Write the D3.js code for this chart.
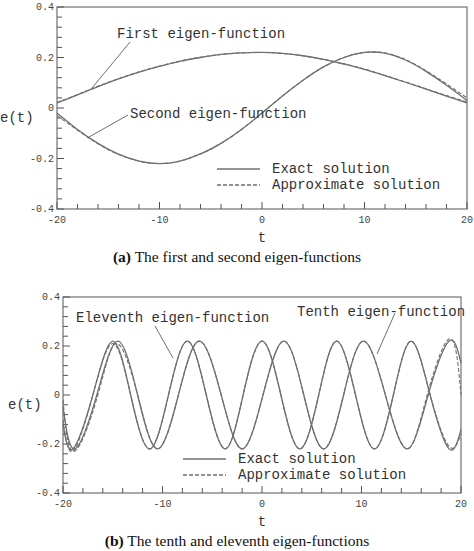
<!DOCTYPE html>
<html><head><meta charset="utf-8">
<script src="https://cdn.jsdelivr.net/npm/d3@7"></script>
<style>body{margin:0;background:#fff}</style>
</head><body>
<svg id="c" width="474" height="551"></svg>
<script>
// panel (a): first and second eigen-functions
const tA = [-20,-18,-16,-14,-12,-10,-8,-6,-4,-2,0,2,4,6,8,10,12,14,16,18,20];
const firstExact  = [0.02,0.052,0.085,0.115,0.142,0.165,0.185,0.2,0.212,0.218,0.22,0.216,0.207,0.193,0.174,0.153,0.128,0.102,0.075,0.047,0.02];
const firstApprox = [0.022,0.053,0.086,0.116,0.143,0.166,0.186,0.201,0.212,0.218,0.22,0.216,0.207,0.193,0.175,0.154,0.129,0.103,0.076,0.049,0.024];
const secondExact  = [-0.02,-0.085,-0.14,-0.183,-0.21,-0.22,-0.21,-0.182,-0.14,-0.085,-0.02,0.048,0.11,0.163,0.2,0.22,0.217,0.19,0.145,0.09,0.03];
const secondApprox = [-0.03,-0.088,-0.142,-0.184,-0.21,-0.22,-0.21,-0.182,-0.14,-0.085,-0.02,0.048,0.11,0.163,0.2,0.22,0.218,0.192,0.148,0.095,0.04];

// panel (b): tenth and eleventh, extrema and zero crossings as [t, e]
const eleventhExact = [[-20,-0.12],[-19,-0.22],[-17,0],[-15,0.22],[-13.2,0],[-11.3,-0.22],[-9.4,0],[-7.5,0.22],[-5.6,0],[-3.7,-0.22],[-1.9,0],[0,0.22],[1.9,0],[3.8,-0.22],[5.7,0],[7.5,0.22],[9.4,0],[11.3,-0.22],[13.2,0],[15,0.22],[16.9,0],[18.8,-0.22],[20,-0.14]];
const eleventhApprox = [[-20,-0.1],[-19,-0.23],[-17,0],[-15,0.21],[-13.2,0],[-11.3,-0.22],[-9.4,0],[-7.5,0.22],[-5.6,0],[-3.7,-0.22],[-1.9,0],[0,0.22],[1.9,0],[3.8,-0.22],[5.7,0],[7.5,0.22],[9.4,0],[11.3,-0.22],[13.2,0],[15,0.22],[16.9,0],[18.8,-0.21],[20,-0.16]];
const tenthExact = [[-20,-0.05],[-18.8,-0.22],[-16.6,0],[-14.5,0.22],[-12.5,0],[-10.5,-0.22],[-8.4,0],[-6.3,0.22],[-4.1,0],[-2,-0.22],[0.1,0],[2.2,0.22],[4.2,0],[6.2,-0.22],[8.2,0],[10.2,0.22],[12.4,0],[14.6,-0.22],[16.7,0],[18.8,0.22],[20,0.13]];
const tenthApprox = [[-20,-0.02],[-18.9,-0.23],[-16.5,0],[-14.6,0.21],[-12.5,0],[-10.5,-0.22],[-8.4,0],[-6.3,0.22],[-4.1,0],[-2,-0.22],[0.1,0],[2.2,0.22],[4.2,0],[6.2,-0.22],[8.2,0],[10.2,0.22],[12.4,0],[14.6,-0.22],[16.6,0],[18.9,0.23],[20,0.0]];

const yTicks = [-0.4,-0.2,0,0.2,0.4];
const xTicks = [-20,-10,0,10,20];

const grey = "#6f6f6f";
const mono = "'Liberation Mono', 'DejaVu Sans Mono', monospace";
const svg = d3.select("#c");

function panel(o) {
  const x = d3.scaleLinear().domain([-20,20]).range([o.x0,o.x1]);
  const y = d3.scaleLinear().domain([-0.4,0.4]).range([o.y1,o.y0]);
  const g = svg.append("g");

  g.append("rect").attr("x",o.x0).attr("y",o.y0)
    .attr("width",o.x1-o.x0).attr("height",o.y1-o.y0)
    .attr("fill","none").attr("stroke","#555").attr("stroke-width",1);

  // inner ticks
  g.selectAll(".yt").data(d3.range(-0.4,0.4001,0.04)).join("line")
    .attr("x1",o.x0).attr("x2",d => o.x0 + (Math.abs(d*10 - Math.round(d*10)) < 1e-6 && Math.round(d*10)%2===0 ? 7 : 5))
    .attr("y1",d=>y(d)).attr("y2",d=>y(d)).attr("stroke","#555");
  g.selectAll(".xt").data(d3.range(-20,20.01,2)).join("line")
    .attr("x1",d=>x(d)).attr("x2",d=>x(d))
    .attr("y1",o.y1).attr("y2",d => o.y1 - (d%10===0 ? 7 : 5)).attr("stroke","#555");

  g.selectAll(".yl").data(yTicks).join("text")
    .attr("x",o.x0-3).attr("y",d=>y(d)+3).attr("text-anchor","end")
    .attr("font-family",mono).attr("font-size",10).attr("fill","#444")
    .text(d => d===0 ? "0" : d.toFixed(1));
  g.selectAll(".xl").data(xTicks).join("text")
    .attr("x",d=>x(d)).attr("y",o.y1+14).attr("text-anchor","middle")
    .attr("font-family",mono).attr("font-size",10).attr("fill","#444")
    .text(d=>d);

  g.append("text").attr("x",o.yLabX).attr("y",y(0)+14)
    .attr("font-family",mono).attr("font-size",14).attr("fill","#333").text("e(t)");
  g.append("text").attr("x",(o.x0+o.x1)/2).attr("y",o.y1+33).attr("text-anchor","middle")
    .attr("font-family",mono).attr("font-size",14).attr("fill","#333").text("t");

  const line = d3.line().x(d=>x(d[0])).y(d=>y(d[1])).curve(d3.curveNatural);
  o.series.forEach(s => {
    g.append("path").attr("d",line(s.pts)).attr("fill","none")
      .attr("stroke",grey).attr("stroke-width",s.dash?1.1:1.3)
      .attr("stroke-dasharray",s.dash?"4,2":null);
  });

  o.labels.forEach(l => {
    g.append("text").attr("x",l.x).attr("y",l.y).attr("font-family",mono)
      .attr("font-size",14).attr("fill","#333").text(l.text);
    g.append("line").attr("x1",l.l[0]).attr("y1",l.l[1]).attr("x2",l.l[2]).attr("y2",l.l[3])
      .attr("stroke",grey);
  });

  // legend
  [["Exact solution",null],["Approximate solution","4,2"]].forEach((d,i) => {
    const ly = o.legY + i*16;
    g.append("line").attr("x1",o.legX).attr("x2",o.legX+43).attr("y1",ly).attr("y2",ly)
      .attr("stroke",grey).attr("stroke-width",1.3).attr("stroke-dasharray",d[1]);
    g.append("text").attr("x",o.legX+55).attr("y",ly+4).attr("font-family",mono)
      .attr("font-size",14).attr("fill","#333").text(d[0]);
  });

  const cap = g.append("text").attr("x",237).attr("y",o.capY).attr("text-anchor","middle")
    .attr("font-family","'Liberation Serif', serif").attr("font-size",15.5).attr("fill","#111");
  cap.append("tspan").attr("font-weight","bold").text(o.capB);
  cap.append("tspan").text(o.capT);
}

const zipA = arr => tA.map((t,i)=>[t,arr[i]]);

panel({
  x0:57, x1:467, y0:7, y1:209, yLabX:0,
  series:[{pts:zipA(firstExact)},{pts:zipA(firstApprox),dash:true},
          {pts:zipA(secondExact)},{pts:zipA(secondApprox),dash:true}],
  labels:[{text:"First eigen-function",x:117,y:38,l:[130,42,92,88]},
          {text:"Second eigen-function",x:130,y:118,l:[128,115,89,137]}],
  legX:217, legY:169, capY:262,
  capB:"(a)", capT:" The first and second eigen-functions"
});

panel({
  x0:63, x1:461, y0:297, y1:493, yLabX:8,
  series:[{pts:eleventhExact},{pts:eleventhApprox,dash:true},
          {pts:tenthExact},{pts:tenthApprox,dash:true}],
  labels:[{text:"Eleventh eigen-function",x:76,y:322,l:[155,326,173,358]},
          {text:"Tenth eigen-function",x:297,y:316,l:[395,313,377,354]}],
  legX:183, legY:459, capY:546,
  capB:"(b)", capT:" The tenth and eleventh eigen-functions"
});
</script>
</body></html>
